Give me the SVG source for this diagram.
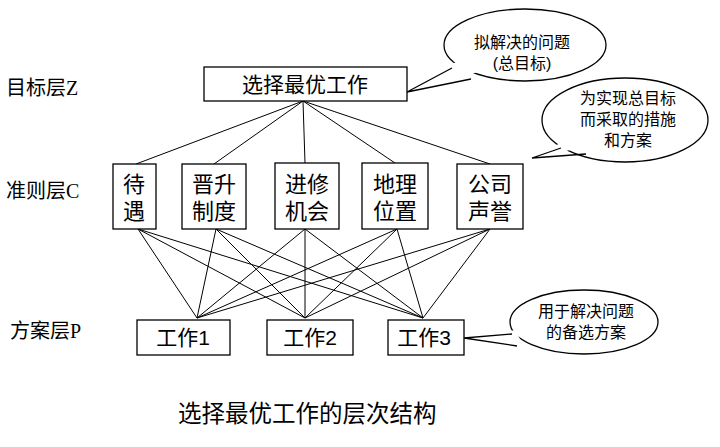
<svg xmlns="http://www.w3.org/2000/svg" width="720" height="447" viewBox="0 0 720 447">
<style>
.b{fill:#fff;stroke:#000;stroke-width:1.3}
.tl{fill:none;stroke:#000;stroke-width:1.3}
.tf{fill:#fff;stroke:none}
.t{font-family:"Liberation Sans","Noto Sans CJK SC",sans-serif;fill:#000}
.s{font-family:"Liberation Serif","Noto Sans CJK SC",serif;fill:#000}
.c line{stroke:#000;stroke-width:1}
</style>
<rect width="720" height="447" fill="#fff"/>
<g class="c" id="connectors">
<line x1="303" y1="101" x2="136" y2="164"/><line x1="303" y1="101" x2="214" y2="164"/><line x1="303" y1="101" x2="305" y2="163"/><line x1="303" y1="101" x2="395" y2="163"/><line x1="303" y1="101" x2="490" y2="164"/>
<line x1="138" y1="229" x2="197" y2="318"/><line x1="138" y1="229" x2="305" y2="318"/><line x1="138" y1="229" x2="423" y2="318"/>
<line x1="216" y1="229" x2="197" y2="318"/><line x1="216" y1="229" x2="305" y2="318"/><line x1="216" y1="229" x2="423" y2="318"/>
<line x1="305" y1="229" x2="197" y2="318"/><line x1="305" y1="229" x2="305" y2="318"/><line x1="305" y1="229" x2="423" y2="318"/>
<line x1="397" y1="229" x2="197" y2="318"/><line x1="397" y1="229" x2="305" y2="318"/><line x1="397" y1="229" x2="423" y2="318"/>
<line x1="490" y1="229" x2="197" y2="318"/><line x1="490" y1="229" x2="305" y2="318"/><line x1="490" y1="229" x2="423" y2="318"/>
</g>
<g id="labels" class="s" font-size="20">
<text x="6" y="95">目标层Z</text><text x="6" y="198">准则层C</text><text x="10" y="338">方案层P</text>
<text x="178" y="422" class="t" font-size="23.5">选择最优工作的层次结构</text>
</g>
<g id="goal"><rect class="b" x="204" y="67" width="203" height="34"/><text class="t" x="305" y="92" font-size="21" text-anchor="middle">选择最优工作</text></g>
<g id="c1"><rect class="b" x="113" y="164" width="43" height="65"/><text class="t" x="134" y="192" font-size="22" text-anchor="middle">待</text><text class="t" x="134" y="219" font-size="22" text-anchor="middle">遇</text></g>
<g id="c2"><rect class="b" x="182" y="164" width="64" height="65"/><text class="t" x="214" y="192" font-size="22" text-anchor="middle">晋升</text><text class="t" x="214" y="219" font-size="22" text-anchor="middle">制度</text></g>
<g id="c3"><rect class="b" x="275" y="163" width="64" height="66"/><text class="t" x="307" y="192" font-size="22" text-anchor="middle">进修</text><text class="t" x="307" y="219" font-size="22" text-anchor="middle">机会</text></g>
<g id="c4"><rect class="b" x="362" y="163" width="66" height="66"/><text class="t" x="395" y="192" font-size="22" text-anchor="middle">地理</text><text class="t" x="395" y="219" font-size="22" text-anchor="middle">位置</text></g>
<g id="c5"><rect class="b" x="457" y="164" width="66" height="65"/><text class="t" x="490" y="192" font-size="22" text-anchor="middle">公司</text><text class="t" x="490" y="219" font-size="22" text-anchor="middle">声誉</text></g>
<g id="p1"><rect class="b" x="137" y="320" width="93" height="35"/><text class="t" x="183" y="345" font-size="21" text-anchor="middle">工作1</text></g>
<g id="p2"><rect class="b" x="267" y="320" width="86" height="35"/><text class="t" x="310" y="345" font-size="21" text-anchor="middle">工作2</text></g>
<g id="p3"><rect class="b" x="388" y="320" width="76" height="35"/><text class="t" x="424" y="345" font-size="21" text-anchor="middle">工作3</text></g>
<g id="callout1"><ellipse class="b" cx="525" cy="45" rx="81" ry="36"/><polygon class="tf" points="456,62 407,92 478,72"/><polyline class="tl" points="452,68 407,92 471,79"/><text class="t" x="522" y="48" font-size="16" text-anchor="middle">拟解决的问题</text><text class="t" x="522" y="69" font-size="16" text-anchor="middle">(总目标)</text></g>
<g id="callout2"><ellipse class="b" cx="625" cy="120" rx="83" ry="42"/><polygon class="tf" points="566,140 532,158 590,146"/><polyline class="tl" points="561,148 532,158 586,154"/><text class="t" x="628" y="104" font-size="16" text-anchor="middle">为实现总目标</text><text class="t" x="628" y="125" font-size="16" text-anchor="middle">而采取的措施</text><text class="t" x="628" y="146" font-size="16" text-anchor="middle">和方案</text></g>
<g id="callout3"><ellipse class="b" cx="584" cy="322" rx="74" ry="32"/><polygon class="tf" points="516,330 464,338 522,344"/><polyline class="tl" points="512,334 464,338 517,346"/><text class="t" x="586" y="317" font-size="16" text-anchor="middle">用于解决问题</text><text class="t" x="586" y="338" font-size="16" text-anchor="middle">的备选方案</text></g>
</svg>
